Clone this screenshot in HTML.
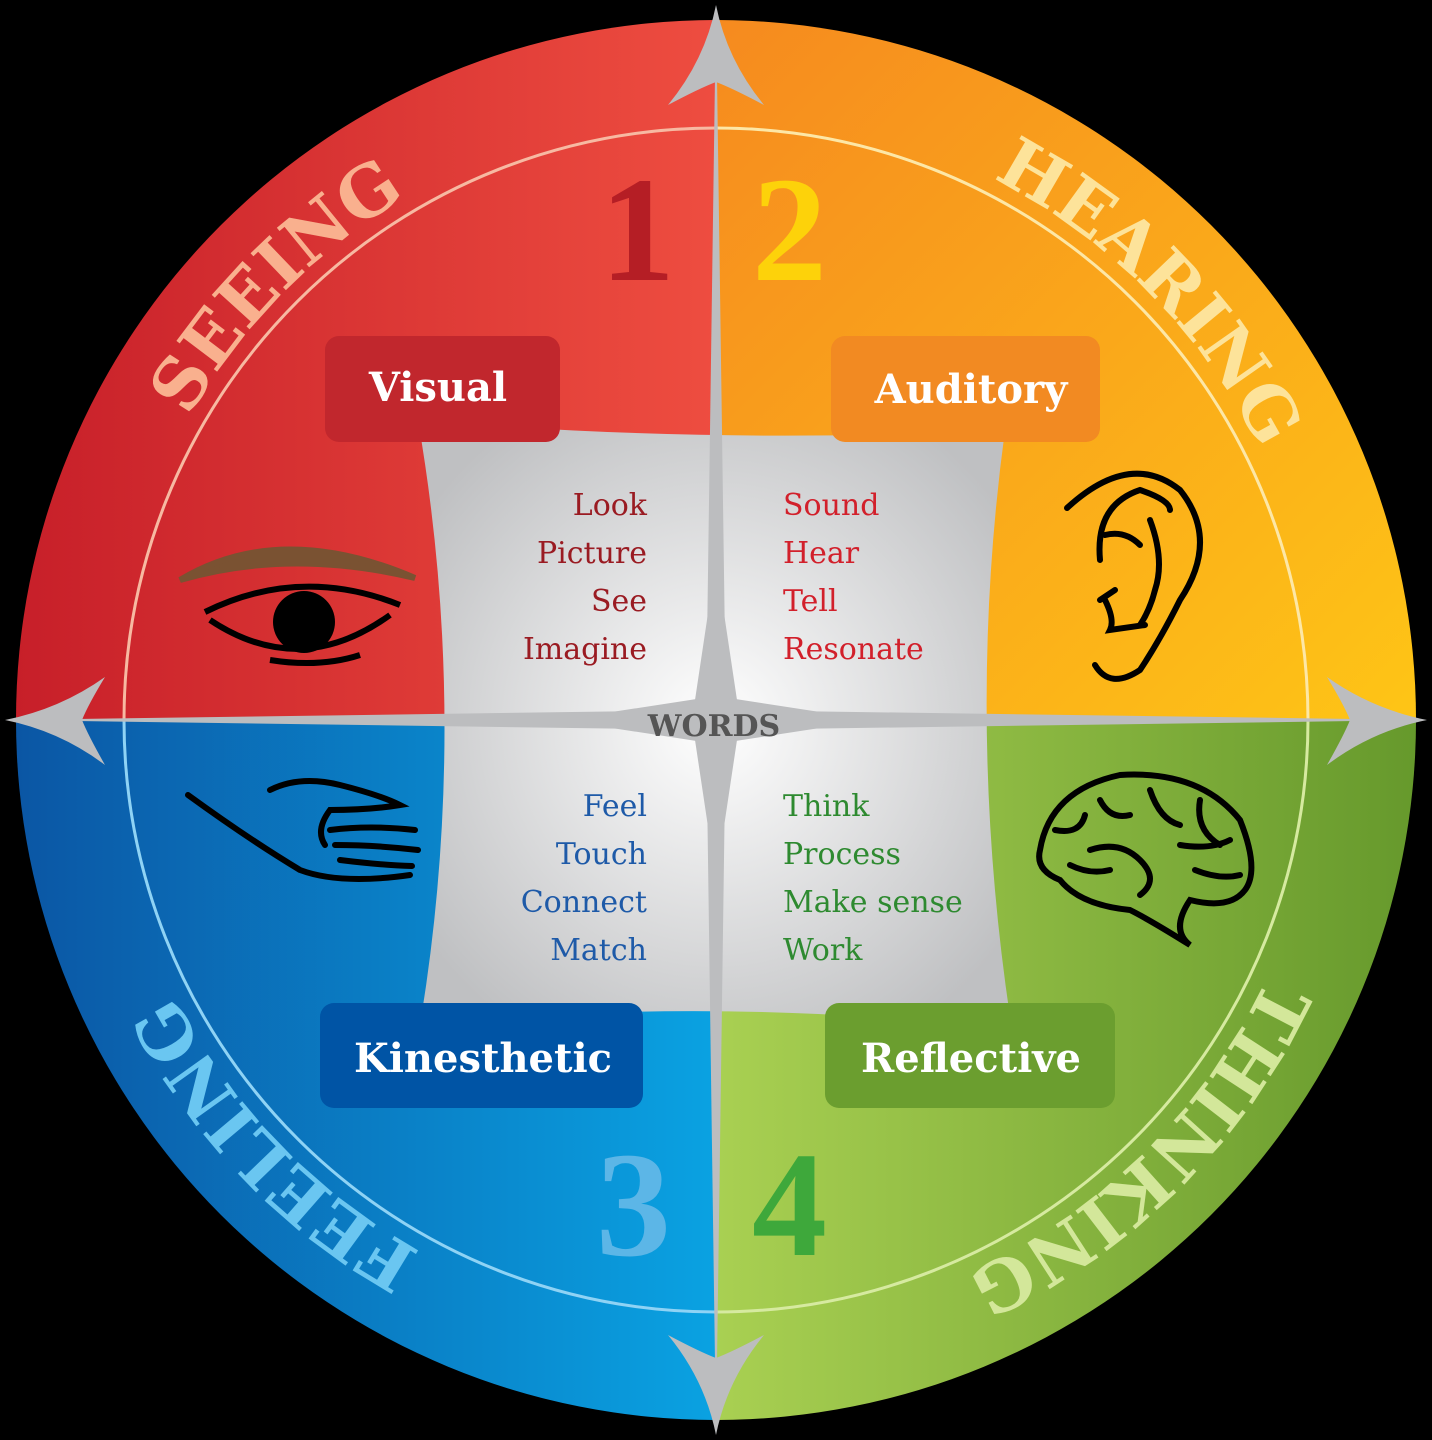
<!DOCTYPE html>
<html><head><meta charset="utf-8"><style>
html,body{margin:0;padding:0;background:#000;}
svg{display:block}
</style></head><body>
<svg width="1432" height="1440" viewBox="0 0 1432 1440" xmlns="http://www.w3.org/2000/svg">
<defs>
<linearGradient id="gr" x1="0" y1="0" x2="1" y2="0"><stop offset="0" stop-color="#c71f29"/><stop offset="1" stop-color="#ee4d40"/></linearGradient>
<linearGradient id="go" x1="0" y1="0" x2="1" y2="1"><stop offset="0" stop-color="#f68a1f"/><stop offset="1" stop-color="#fec516"/></linearGradient>
<linearGradient id="gb" x1="0" y1="0" x2="1" y2="0"><stop offset="0" stop-color="#0b56a4"/><stop offset="1" stop-color="#0aa2e2"/></linearGradient>
<linearGradient id="gg" x1="0" y1="0" x2="1" y2="0"><stop offset="0" stop-color="#a9d052"/><stop offset="1" stop-color="#66992c"/></linearGradient>
<radialGradient id="gc" cx="0.5" cy="0.5" r="0.6"><stop offset="0" stop-color="#ffffff"/><stop offset="1" stop-color="#bfc0c2"/></radialGradient>
<path id="ring" d="M716,112 A608,608 0 0 1 716,1328 A608,608 0 0 1 716,112"/>
</defs>
<rect width="1432" height="1440" fill="#000"/>
<path d="M716,720 L716,20 A700,700 0 0 0 16,720 Z" fill="url(#gr)"/>
<path d="M716,720 L716,20 A700,700 0 0 1 1416,720 Z" fill="url(#go)"/>
<path d="M716,720 L16,720 A700,700 0 0 0 716,1420 Z" fill="url(#gb)"/>
<path d="M716,720 L1416,720 A700,700 0 0 1 716,1420 Z" fill="url(#gg)"/>
<path d="M716,128 A592,592 0 0 0 124,720" fill="none" stroke="#f7b9a2" stroke-width="3"/>
<path d="M716,128 A592,592 0 0 1 1308,720" fill="none" stroke="#fde7a6" stroke-width="3"/>
<path d="M124,720 A592,592 0 0 0 716,1312" fill="none" stroke="#8fd3f5" stroke-width="3"/>
<path d="M1308,720 A592,592 0 0 1 716,1312" fill="none" stroke="#d6eaa0" stroke-width="3"/>
<g font-family="'DejaVu Serif',serif" font-weight="bold" font-size="70" text-anchor="middle">
<text fill="#f9b08e"><textPath href="#ring" startOffset="87.4%">SEEING</textPath></text>
<text fill="#fde39a"><textPath href="#ring" startOffset="12.6%">HEARING</textPath></text>
<text fill="#d3e79a"><textPath href="#ring" startOffset="37.6%">THINKING</textPath></text>
<text fill="#6ac6f1"><textPath href="#ring" startOffset="62.8%">FEELING</textPath></text>
</g>
<path d="M418,420 Q712,445 1005,430 Q965,725 1012,1030 Q716,995 420,1025 Q470,722 418,420 Z" fill="url(#gc)"/>
<g fill="#bcbdbf">
<polygon points="716,5 726,715 716,1435 706,715"/>
<polygon points="5,720 716,730 1427,720 716,710"/>
<polygon points="716,560 740,720 716,880 692,720"/>
<polygon points="560,720 716,744 872,720 716,696"/>
<path d="M716,5 Q705,60 668,105 Q700,88 716,82 Q732,88 764,105 Q727,60 716,5 Z"/>
<path d="M716,1435 Q705,1380 668,1335 Q700,1352 716,1358 Q732,1352 764,1335 Q727,1380 716,1435 Z"/>
<path d="M5,720 Q60,709 105,677 Q88,705 82,720 Q88,735 105,765 Q60,731 5,720 Z"/>
<path d="M1427,720 Q1372,709 1327,677 Q1344,705 1350,720 Q1344,735 1327,765 Q1372,731 1427,720 Z"/>
</g>
<rect x="325" y="336" width="235" height="106" rx="14" fill="#c1272d"/>
<rect x="831" y="336" width="269" height="106" rx="14" fill="#f28a22"/>
<rect x="320" y="1003" width="323" height="105" rx="14" fill="#0054a5"/>
<rect x="825" y="1003" width="290" height="105" rx="14" fill="#6b9e2f"/>
<g font-family="'DejaVu Serif',serif" font-weight="bold" font-size="40" fill="#fff" text-anchor="middle">
<text x="438" y="401">Visual</text>
<text x="971" y="403">Auditory</text>
<text x="483" y="1072">Kinesthetic</text>
<text x="971" y="1072">Reflective</text>
</g>
<g font-family="'Liberation Serif',serif" font-weight="bold" font-size="150">
<text x="600" y="280" fill="#b51e25">1</text>
<text x="752" y="280" fill="#fdd20a">2</text>
<text x="596" y="1255" fill="#5cb6e7">3</text>
<text x="752" y="1255" fill="#3ea83b">4</text>
</g>
<g font-family="'DejaVu Serif',serif" font-size="30">
<g text-anchor="end" fill="#9a1b22">
<text x="647" y="515">Look</text><text x="647" y="563">Picture</text><text x="647" y="611">See</text><text x="647" y="659">Imagine</text></g>
<g fill="#d2202b">
<text x="783" y="515">Sound</text><text x="783" y="563">Hear</text><text x="783" y="611">Tell</text><text x="783" y="659">Resonate</text></g>
<g text-anchor="end" fill="#1e5aa8">
<text x="647" y="816">Feel</text><text x="647" y="864">Touch</text><text x="647" y="912">Connect</text><text x="647" y="960">Match</text></g>
<g fill="#2e8a30">
<text x="783" y="816">Think</text><text x="783" y="864">Process</text><text x="783" y="912">Make sense</text><text x="783" y="960">Work</text></g>
</g>
<text x="714" y="736" font-family="'DejaVu Serif',serif" font-weight="bold" font-size="30" fill="#555" text-anchor="middle">WORDS</text>
<path d="M180,580 Q280,520 415,578 Q290,548 180,580 Z" fill="#7a5232" stroke="#7a5232" stroke-width="6"/>
<path d="M205,612 Q300,565 400,605 M210,620 Q300,680 390,615" fill="none" stroke="#000" stroke-width="6"/>
<circle cx="304" cy="622" r="31" fill="#000"/>
<path d="M270,660 Q320,668 360,655" fill="none" stroke="#000" stroke-width="6"/>
<g fill="none" stroke="#000" stroke-width="6" stroke-linecap="round">
<path d="M1067,508 Q1130,450 1180,490 Q1220,540 1180,600 Q1160,640 1140,670 Q1110,690 1095,665"/>
<path d="M1100,560 Q1095,505 1140,490 Q1170,500 1170,510"/>
<path d="M1105,535 Q1125,530 1140,545 M1150,520 Q1165,560 1155,590 Q1150,610 1140,625"/>
<path d="M1100,600 L1115,590 M1105,600 Q1115,620 1110,630 L1145,625"/>
</g>
<g fill="none" stroke="#000" stroke-width="6" stroke-linecap="round">
<path d="M1040,850 Q1050,790 1120,775 Q1200,770 1240,820 Q1260,870 1245,890 Q1230,910 1190,900 Q1170,930 1190,945 Q1150,920 1130,910 Q1080,905 1060,880 Q1035,870 1040,850 Z"/>
<path d="M1055,830 Q1080,835 1085,815 M1090,850 Q1120,840 1140,860 Q1160,880 1140,895 M1100,800 Q1110,820 1130,815 M1150,790 Q1160,820 1180,825 M1180,845 Q1210,850 1230,840 M1195,870 Q1220,880 1240,875 M1070,865 Q1090,875 1110,870 M1200,800 Q1195,830 1220,845"/>
</g>
<g fill="none" stroke="#000" stroke-width="6" stroke-linecap="round">
<path d="M188,795 Q250,840 300,870 Q340,885 410,875"/>
<path d="M270,790 Q300,775 340,785 Q380,795 400,805 Q370,810 330,810 Q315,830 325,845"/>
<path d="M330,830 Q370,825 415,830 M335,845 Q375,845 418,850 M340,860 Q380,865 412,866"/>
</g>
</svg>
</body></html>
